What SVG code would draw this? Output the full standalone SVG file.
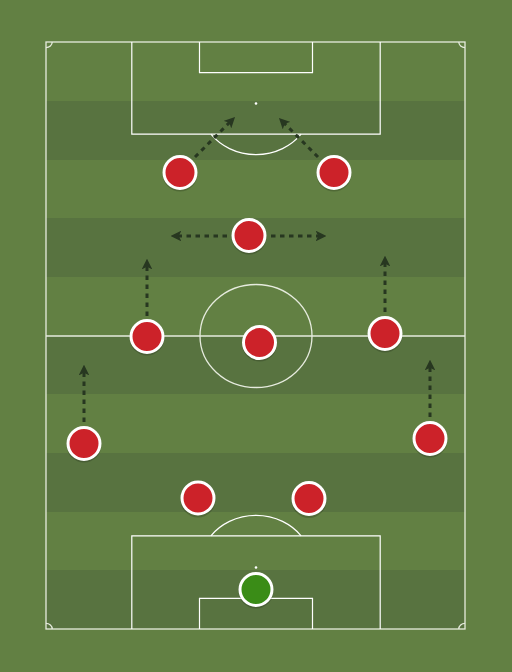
<svg xmlns="http://www.w3.org/2000/svg" width="512" height="672" viewBox="0 0 512 672">
<style>
.stripe{fill:#587340}
.line{fill:none;stroke:#ffffff;stroke-width:1.2}
.border{fill:none;stroke:#e6ebde;stroke-width:1.3}
.mv{fill:none;stroke:#273720;stroke-width:3;stroke-dasharray:4.5 4.5;marker-end:url(#ah)}
.pl{fill:#cc2229;stroke:#ffffff;stroke-width:3}
.gk{fill:#3a8c17;stroke:#ffffff;stroke-width:3}
.sh{fill:#000;opacity:0.18}
</style>
<defs>
<marker id="ah" viewBox="0 0 10 10" refX="6" refY="5" markerWidth="3.6" markerHeight="3.6" orient="auto" markerUnits="strokeWidth">
<path d="M0,0 L10,5 L0,10 L2.5,5 Z" fill="#273720"/>
</marker>
</defs>
<rect x="0" y="0" width="512" height="672" fill="#628043"/>
<g id="stripes">
<rect class="stripe" x="46" y="101" width="419" height="59"/>
<rect class="stripe" x="46" y="218" width="419" height="59"/>
<rect class="stripe" x="46" y="336" width="419" height="58"/>
<rect class="stripe" x="46" y="453" width="419" height="59"/>
<rect class="stripe" x="46" y="570" width="419" height="59"/>
</g>
<g id="pitch-lines">
<rect class="border" x="46" y="42" width="419" height="587"/>
<line class="border" x1="46" y1="336" x2="465" y2="336"/>
<ellipse class="border" cx="256" cy="336" rx="56" ry="51.5"/>
<path class="line" d="M131.8,42 V134.2 H380.2 V42"/>
<path class="line" d="M199.5,42 V72.7 H312.5 V42"/>
<circle cx="256" cy="103.5" r="1.3" fill="#fff"/>
<path class="line" d="M210.9,134.2 A56.4,51.2 0 0 0 301.1,134.2"/>
<path class="line" d="M131.8,629 V535.8 H380.2 V629"/>
<path class="line" d="M199.5,629 V598.3 H312.5 V629"/>
<circle cx="256" cy="567.5" r="1.3" fill="#fff"/>
<path class="line" d="M210.9,535.8 A56.4,51.2 0 0 1 301.1,535.8"/>
<path class="border" d="M46,47.6 A6.2,5.6 0 0 0 52.2,42"/>
<path class="border" d="M458.8,42 A6.2,5.6 0 0 0 465,47.6"/>
<path class="border" d="M46,623.4 A6.2,5.6 0 0 1 52.2,629"/>
<path class="border" d="M458.8,629 A6.2,5.6 0 0 1 465,623.4"/>
</g>
<g id="connectors">
<line class="mv" x1="195" y1="157" x2="232" y2="120"/>
<line class="mv" x1="318" y1="157" x2="282" y2="121"/>
<line class="mv" x1="227" y1="236" x2="175" y2="236"/>
<line class="mv" x1="271" y1="236" x2="322" y2="236"/>
<line class="mv" x1="147" y1="316" x2="147" y2="263"/>
<line class="mv" x1="385" y1="312" x2="385" y2="260"/>
<line class="mv" x1="84" y1="422" x2="84" y2="369"/>
<line class="mv" x1="430" y1="417" x2="430" y2="364"/>
</g>
<g id="p1"><circle class="sh" cx="180" cy="174" r="17.5"/><circle class="pl" cx="180" cy="172.5" r="16"/></g>
<g id="p2"><circle class="sh" cx="334" cy="174" r="17.5"/><circle class="pl" cx="334" cy="172.5" r="16"/></g>
<g id="p3"><circle class="sh" cx="249" cy="237" r="17.5"/><circle class="pl" cx="249" cy="235.5" r="16"/></g>
<g id="p4"><circle class="sh" cx="147" cy="338" r="17.5"/><circle class="pl" cx="147" cy="336.5" r="16"/></g>
<g id="p5"><circle class="sh" cx="259.5" cy="344" r="17.5"/><circle class="pl" cx="259.5" cy="342.5" r="16"/></g>
<g id="p6"><circle class="sh" cx="385" cy="335" r="17.5"/><circle class="pl" cx="385" cy="333.5" r="16"/></g>
<g id="p7"><circle class="sh" cx="84" cy="445" r="17.5"/><circle class="pl" cx="84" cy="443.5" r="16"/></g>
<g id="p8"><circle class="sh" cx="430" cy="440" r="17.5"/><circle class="pl" cx="430" cy="438.5" r="16"/></g>
<g id="p9"><circle class="sh" cx="198" cy="500" r="17.5"/><circle class="pl" cx="198" cy="498" r="16"/></g>
<g id="p10"><circle class="sh" cx="309" cy="500.5" r="17.5"/><circle class="pl" cx="309" cy="498.5" r="16"/></g>
<g id="gk"><circle class="sh" cx="256" cy="591" r="17.5"/><circle class="gk" cx="256" cy="589.5" r="16"/></g>
</svg>
